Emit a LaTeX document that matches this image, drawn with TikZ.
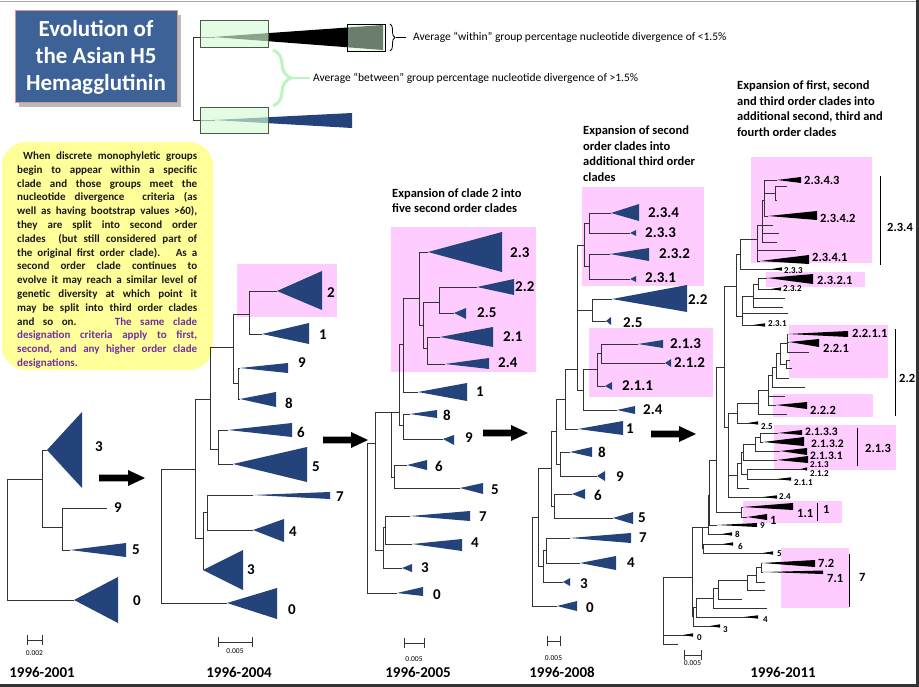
\documentclass[tikz,border=0pt]{standalone}
\usepackage{fontspec}
\setmainfont{Carlito}
\usetikzlibrary{decorations.pathreplacing}
\definecolor{tricol}{HTML}{23437A}
\definecolor{pinkbg}{RGB}{255,204,255}
\definecolor{yel}{RGB}{255,255,153}
\definecolor{titleblue}{HTML}{3C6298}
\definecolor{titleedge}{HTML}{D99694}
\definecolor{legg}{RGB}{214,250,214}
\definecolor{legedge}{HTML}{4A5A4A}
\definecolor{legbrace}{RGB}{190,245,190}
\definecolor{purp}{HTML}{7030A0}
\definecolor{linecol}{HTML}{333333}
\newcommand\tri[5]{\fill[tricol] (#1,#2) -- (#3,#4) -- (#3,#5) -- cycle;}
\newcommand\btri[5]{\fill[black] (#1,#2) -- (#3,#4) -- (#3,#5) -- cycle;}
\newcommand\tiptri[3]{\fill[black] ({#1-#3},#2) -- (#1,{#2-1.7}) -- (#1,{#2+1.7}) -- cycle;}
\newcommand\cl[5]{\draw[tl] (#2,#3) -| (#1,#5) -- (#4,#5);}
\newcommand\hl[3]{\draw[tl] (#1,#2) -- (#3,#2);}
\newcommand\lbl[5]{\node[#1,anchor=west] (#2) at (#3,#4) {#5};}
\newcommand\pinkbox[4]{\fill[pinkbg] (#1,#2) rectangle (#3,#4);}
\newcommand\bigarrow[3]{\fill[black] (#1,{#3-3.3}) -- ({#2-17},{#3-3.3}) -- ({#2-17},{#3-8}) -- (#2,#3) -- ({#2-17},{#3+8}) -- ({#2-17},{#3+3.3}) -- (#1,{#3+3.3}) -- cycle;}
\newcommand\sbar[6]{\draw[linecol,line width=0.8pt] (#1,{#3-5}) -- (#1,{#3+5}) (#1,#3) -- (#2,#3) (#2,{#3-5}) -- (#2,{#3+5});
  \node[scalelab] (#5) at ({(#1+#2)/2},#4) {#6};}
\newcommand\ybr[3]{\draw[black,line width=0.9pt] (#1,#2) -- (#1,#3);}
\newcommand\yl[1]{\makebox[180pt][s]{#1}}
\begin{document}
\begin{tikzpicture}[x=1pt,y=-1pt,
 tl/.style={draw=linecol,line width=0.8pt},
 labA/.style={font=\bfseries\fontsize{15}{15}\selectfont,inner sep=0pt},
 labB/.style={font=\bfseries\fontsize{12.5}{12.5}\selectfont,inner sep=0pt},
 labBs/.style={font=\bfseries\fontsize{11.5}{11.5}\selectfont,inner sep=0pt},
 labC/.style={font=\bfseries\fontsize{9}{9}\selectfont,inner sep=0pt},
 yearlab/.style={font=\bfseries\fontsize{15}{15}\selectfont,inner sep=0pt},
 scalelab/.style={font=\fontsize{7.5}{7.5}\selectfont,inner sep=0pt},
 headlab/.style={font=\bfseries\fontsize{12.5}{15.5}\selectfont,inner sep=0pt,align=left,anchor=north west},
 legtext/.style={font=\fontsize{11.5}{13}\selectfont,inner sep=0pt,anchor=west},
]
\useasboundingbox (0,0) rectangle (919,687);
\fill[white] (0,0) rectangle (919,687);
% frame
\draw[black!35,line width=1pt] (0,1.5) -- (919,1.5);
\fill[black!80] (916,0) rectangle (919,687);
\fill[black!80] (0,683.5) rectangle (919,687);

% ---------- title ----------
\fill[black!45,opacity=0.6] (19,15) rectangle (181,107);
\filldraw[fill=titleblue,draw=titleedge,line width=1pt] (15,11) rectangle (177,103);
\node[text=white,font=\bfseries\fontsize{23}{27}\selectfont,align=center,inner sep=0] (title) at (96,57) {Evolution of\\the Asian H5\\Hemagglutinin};

% ---------- legend ----------
\draw[linecol,line width=0.9pt] (215,37) -| (193,120) -- (215,120);
\fill[black] (213,37) -- (383,25) -- (383,50) -- cycle;
\fill[tricol] (213,120) -- (352,113) -- (352,128) -- cycle;
\filldraw[fill=legg,fill opacity=0.65,draw=legedge,line width=0.8pt] (200,20) rectangle (268,47);
\filldraw[fill=legg,fill opacity=0.65,draw=legedge,line width=0.8pt] (200,107) rectangle (268,133);
\filldraw[fill=legg,fill opacity=0.5,draw=black,line width=0.8pt] (347,24) rectangle (385,51);
\draw[decorate,decoration={brace,amplitude=5pt},line width=0.8pt] (390,24) -- (390,51);
\draw[line width=0.8pt] (396,37.5) -- (406,37.5);
\node[legtext] (legw) at (413,37.5) {Average “within” group percentage nucleotide divergence of <1.5\%};
\draw[decorate,decoration={brace,amplitude=18pt},legbrace,line width=3pt] (273,50) -- (273,106);
\draw[legbrace,line width=2pt] (290,78) -- (310,78);
\node[legtext] (legb) at (313,78) {Average “between” group percentage nucleotide divergence of >1.5\%};

% ---------- yellow box ----------
\fill[yel,rounded corners=24pt] (2,142) rectangle (213,370);
\node[anchor=north west,inner sep=0,align=left,font=\bfseries\fontsize{11}{13.8}\selectfont,text=black!90] (ytext) at (17,151.5) {%
\yl{\hspace{6pt}When discrete monophyletic groups}\\
\yl{begin to appear within a specific}\\
\yl{clade and those groups meet the}\\
\yl{nucleotide divergence \ criteria (as}\\
\yl{well as having bootstrap values >60),}\\
\yl{they are split into second order}\\
\yl{clades \ (but still considered part of}\\
\yl{the original first order clade). \ As a}\\
\yl{second order clade continues to}\\
\yl{evolve it may reach a similar level of}\\
\yl{genetic diversity at which point it}\\
\yl{may be split into third order clades}\\
\yl{and so on. \ \ \textcolor{purp}{The same clade}}\\
\yl{\textcolor{purp}{designation criteria apply to first,}}\\
\yl{\textcolor{purp}{second, and any higher order clade}}\\
\textcolor{purp}{designations.}};

% ---------- arrows ----------
\bigarrow{99}{145}{478}
\bigarrow{323}{368}{440}
\bigarrow{483}{528}{433}
\bigarrow{651}{696}{434}

% ---------- tree 1 (1996-2001) ----------
\cl{7}{42}{479}{74}{600}
\cl{42}{47}{450}{62}{527}
\cl{62}{107}{508}{70}{550}
\tri{74}{600}{118}{577}{623}
\tri{47}{450}{82}{412}{488}
\tri{70}{550}{126}{543}{557}
\lbl{labA}{a3}{95}{447}{3}
\lbl{labA}{a9}{114}{508}{9}
\lbl{labA}{a5}{132}{550}{5}
\lbl{labA}{a0}{133}{601}{0}
\sbar{27}{42}{640}{653}{s1}{0.002}
\node[yearlab] (y1) at (42,672) {1996-2001};

% ---------- tree 2 (1996-2004) ----------
\pinkbox{237}{264}{337}{317}
\cl{161}{195}{469}{227}{603}
\cl{195}{210}{399}{203}{538}
\cl{210}{233}{347}{218}{449}
\cl{233}{249}{314}{238}{383}
\cl{249}{277}{291}{262}{334}
\cl{238}{240}{368}{240}{399}
\cl{218}{228}{430}{233}{464}
\cl{203}{207}{512}{203}{570}
\cl{207}{253}{495}{253}{530}
\tri{277}{291}{322}{271}{310}
\tri{262}{334}{309}{323}{344}
\tri{240}{368}{288}{363}{373}
\tri{240}{399}{276}{392}{407}
\tri{228}{430}{292}{423}{437}
\tri{233}{464}{307}{447}{482}
\tri{253}{495}{330}{492}{499}
\tri{253}{530}{284}{519}{542}
\tri{203}{570}{243}{550}{590}
\tri{227}{603}{277}{588}{619}
\lbl{labA}{b2}{327}{293}{2}
\lbl{labA}{b1}{319}{335}{1}
\lbl{labA}{b9}{298}{363}{9}
\lbl{labA}{b8}{285}{403}{8}
\lbl{labA}{b6}{297}{432}{6}
\lbl{labA}{b5}{312}{467}{5}
\lbl{labA}{b7}{336}{497}{7}
\lbl{labA}{b4}{289}{532}{4}
\lbl{labA}{b3}{247}{570}{3}
\lbl{labA}{b0}{288}{610}{0}
\sbar{218}{252}{642}{651}{s2}{0.005}
\node[yearlab] (y2) at (239,672) {1996-2004};

% ---------- tree 3 (1996-2005) ----------
\node[headlab] (h3) at (392,188.5) {Expansion of clade 2 into\\five second order clades};
\pinkbox{391}{227}{536}{372}
\cl{367}{375}{443}{397}{593}
\cl{375}{391}{412}{383}{550}
\cl{391}{399}{412}{394}{477}
\cl{399}{403}{344}{403}{425}
\cl{403}{419}{298}{418}{392}
\cl{419}{428}{252}{423}{325}
\cl{423}{439}{302}{427}{348}
\cl{439}{477}{287}{454}{313}
\cl{427}{440}{337}{445}{364}
\cl{403}{410}{414}{443}{439}
\cl{394}{407}{465}{460}{488}
\cl{383}{385}{527}{402}{568}
\cl{385}{410}{516}{412}{544}
\tri{428}{252}{502}{232}{272}
\tri{477}{287}{514}{279}{295}
\tri{454}{313}{466}{308}{319}
\tri{440}{337}{493}{327}{347}
\tri{445}{364}{489}{358}{369}
\tri{418}{392}{467}{383}{401}
\tri{410}{414}{437}{410}{418}
\tri{443}{439}{454}{435}{445}
\tri{407}{465}{427}{460}{470}
\tri{460}{488}{483}{483}{494}
\tri{410}{516}{470}{511}{521}
\tri{412}{544}{462}{539}{551}
\tri{402}{568}{412}{564}{572}
\tri{397}{593}{423}{587}{596}
\lbl{labA}{c23}{510}{253}{2.3}
\lbl{labA}{c22}{515}{287}{2.2}
\lbl{labA}{c25}{477}{313}{2.5}
\lbl{labA}{c21}{503}{337}{2.1}
\lbl{labA}{c24}{498}{363}{2.4}
\lbl{labA}{c1}{476}{392}{1}
\lbl{labA}{c8}{443}{415}{8}
\lbl{labA}{c9}{465}{438}{9}
\lbl{labA}{c6}{435}{466}{6}
\lbl{labA}{c5}{491}{490}{5}
\lbl{labA}{c7}{479}{517}{7}
\lbl{labA}{c4}{471}{543}{4}
\lbl{labA}{c3}{421}{568}{3}
\lbl{labA}{c0}{433}{595}{0}
\sbar{404}{424}{643}{659}{s3}{0.005}
\node[yearlab] (y3) at (418,672) {1996-2005};

% ---------- tree 4 (1996-2008) ----------
\node[headlab] (h4) at (583,126) {Expansion of second\\order clades into\\additional third order\\clades};
\pinkbox{582}{187}{704}{286}
\pinkbox{589}{328}{713}{397}
\cl{532}{538}{517}{557}{606}
\cl{538}{551}{468}{543}{566}
\cl{551}{556}{431}{554}{506}
\cl{556}{565}{399}{560}{464}
\cl{565}{577}{369}{578}{429}
\cl{577}{584}{245}{583}{390}
\hl{577}{310}{592}
\cl{584}{589}{223}{589}{266}
\cl{589}{611}{213}{630}{233}
\cl{589}{610}{254}{630}{279}
\cl{592}{612}{299}{606}{321}
\cl{583}{597}{369}{617}{410}
\cl{597}{601}{353}{605}{386}
\cl{601}{638}{344}{665}{363}
\cl{560}{570}{452}{597}{476}
\cl{554}{572}{494}{613}{518}
\cl{543}{546}{550}{563}{582}
\cl{546}{570}{538}{580}{563}
\tri{611}{213}{639}{204}{221}
\tri{630}{233}{636}{230}{236}
\tri{610}{254}{649}{248}{261}
\tri{630}{279}{636}{276}{282}
\tri{612}{299}{687}{285}{312}
\tri{606}{321}{611}{317}{325}
\tri{638}{344}{663}{340}{348}
\tri{665}{363}{671}{359}{367}
\tri{605}{386}{612}{382}{390}
\tri{617}{410}{635}{406}{414}
\tri{578}{429}{623}{421}{435}
\tri{570}{452}{592}{447}{457}
\tri{597}{476}{605}{471}{481}
\tri{572}{494}{585}{489}{499}
\tri{613}{518}{633}{512}{524}
\tri{570}{538}{631}{533}{543}
\tri{580}{563}{616}{556}{570}
\tri{563}{582}{570}{578}{586}
\tri{557}{606}{577}{601}{611}
\lbl{labA}{d234}{648}{213}{2.3.4}
\lbl{labA}{d233}{645}{233}{2.3.3}
\lbl{labA}{d232}{659}{254}{2.3.2}
\lbl{labA}{d231}{645}{278}{2.3.1}
\lbl{labA}{d22}{688}{300}{2.2}
\lbl{labA}{d25}{623}{323}{2.5}
\lbl{labA}{d213}{670}{344}{2.1.3}
\lbl{labA}{d212}{674}{363}{2.1.2}
\lbl{labA}{d211}{622}{386}{2.1.1}
\lbl{labA}{d24}{643}{410}{2.4}
\lbl{labA}{d1}{626}{429}{1}
\lbl{labA}{d8}{598}{452}{8}
\lbl{labA}{d9}{616}{477}{9}
\lbl{labA}{d6}{594}{495}{6}
\lbl{labA}{d5}{638}{518}{5}
\lbl{labA}{d7}{639}{538}{7}
\lbl{labA}{d4}{627}{563}{4}
\lbl{labA}{d3}{580}{584}{3}
\lbl{labA}{d0}{586}{608}{0}
\sbar{547}{560}{641}{658}{s4}{0.005}
\node[yearlab] (y4) at (562,672) {1996-2008};

% ---------- tree 5 (1996-2011) ----------
\node[headlab] (h5) at (737,81) {Expansion of first, second\\and third order clades into\\additional second, third and\\fourth order clades};
\pinkbox{751}{157}{872}{263}
\pinkbox{766}{272}{865}{287}
\pinkbox{789}{325}{888}{378}
\pinkbox{773}{394}{873}{417}
\pinkbox{774}{425}{896}{470}
\pinkbox{743}{501}{842}{523}
\pinkbox{781}{548}{849}{608}
% lower backbone
\cl{761}{762}{563}{763}{572}
\cl{756}{761}{567}{765}{582}
\cl{747}{756}{575}{765}{590}
\cl{718}{747}{580}{742}{599}
\cl{713}{718}{588}{767}{608}
\cl{696}{713}{598}{758}{617}
\cl{693}{696}{607}{720}{626}
\cl{692}{702}{527}{693}{616}
\cl{663}{692}{577}{678}{644}
\hl{663}{635}{693}
% upper
\cl{702}{708}{527}{703}{548}
\cl{703}{733}{544}{773}{553}
\cl{708}{709}{495}{732}{534}
\cl{709}{716}{460}{717}{525}
\cl{716}{724}{367}{741}{512}
\cl{741}{743}{507}{747}{517}
\cl{724}{736}{286}{728}{427}
\cl{736}{740}{254}{742}{316}
\cl{740}{757}{239}{782}{269}
\cl{742}{753}{296}{765}{325}
\hl{742}{313}{788}
\cl{753}{758}{284}{783}{307}
\hl{753}{298}{785}
\cl{758}{767}{278}{781}{289}
\cl{757}{762}{225}{760}{261}
\hl{757}{250}{796}
\cl{762}{764}{200}{777}{242}
\hl{762}{225}{773}
\hl{762}{233}{779}
\cl{764}{777}{180}{768}{216}
\hl{764}{193}{775}
\cl{775}{787}{186}{777}{200}
% clade 2.2 / 2.1 / 2.4
\cl{728}{737}{413}{777}{497}
\hl{728}{475}{737}
\cl{737}{758}{403}{758}{423}
\cl{758}{768}{390}{787}{414}
\cl{768}{772}{375}{776}{405}
\hl{768}{396}{785}
\cl{772}{776}{367}{805}{387}
\cl{776}{780}{353}{789}{378}
\cl{780}{787}{343}{786}{364}
\cl{787}{788}{334}{809}{352}
\hl{787}{342}{789}
\cl{786}{790}{360}{792}{368}
\cl{737}{741}{463}{749}{488}
\cl{741}{743}{452}{747}{474}
\cl{743}{755}{444}{777}{460}
\cl{755}{760}{437}{780}{451}
\cl{760}{778}{433}{763}{442}
\cl{747}{807}{469}{791}{479}
% black triangles
\btri{777}{180}{801}{177}{183}
\btri{768}{216}{817}{211}{220}
\btri{760}{261}{809}{255}{264}
\btri{767}{278}{813}{274}{284}
\btri{788}{334}{848}{331}{337}
\btri{789}{342}{819}{339}{347}
\btri{776}{405}{807}{402}{409}
\btri{778}{433}{802}{430}{435}
\btri{763}{442}{804}{437}{446}
\btri{780}{451}{807}{448}{455}
\btri{777}{460}{808}{456}{463}
\btri{743}{507}{793}{503}{510}
\btri{747}{517}{767}{514}{520}
\btri{717}{525}{757}{523}{527}
\btri{762}{563}{815}{560}{567}
\btri{763}{572}{823}{570.5}{574}
\tiptri{782}{269}{10}
\tiptri{781}{289}{10}
\tiptri{765}{325}{12}
\tiptri{758}{423}{10}
\tiptri{777}{497}{14}
\tiptri{807}{469}{6}
\tiptri{791}{479}{14}
\tiptri{732}{534}{10}
\tiptri{733}{544}{10}
\tiptri{773}{553}{10}
\tiptri{758}{617}{14}
\tiptri{720}{626}{10}
\tiptri{693}{635}{10}
% brackets
\ybr{880}{176}{265}
\ybr{895}{329}{416}
\ybr{857}{428}{466}
\ybr{817}{503}{521}
\ybr{849}{554}{607}
\lbl{labB}{e234b}{887}{227}{2.3.4}
\lbl{labB}{e22b}{899}{378}{2.2}
\lbl{labB}{e213b}{865}{448}{2.1.3}
\lbl{labB}{e1b}{823}{509}{1}
\lbl{labB}{e7b}{859}{577}{7}
% labels
\lbl{labB}{e2343}{804}{180}{2.3.4.3}
\lbl{labB}{e2342}{820}{218}{2.3.4.2}
\lbl{labB}{e2341}{812}{257}{2.3.4.1}
\lbl{labB}{e2321}{817}{280}{2.3.2.1}
\lbl{labB}{e2211}{852}{333}{2.2.1.1}
\lbl{labB}{e221}{823}{348}{2.2.1}
\lbl{labB}{e222}{810}{410}{2.2.2}
\lbl{labBs}{e2133}{805}{431.5}{2.1.3.3}
\lbl{labBs}{e2132}{811}{443.5}{2.1.3.2}
\lbl{labBs}{e2131}{810}{456}{2.1.3.1}
\lbl{labB}{e11}{797}{513}{1.1}
\lbl{labB}{e1}{770}{520}{1}
\lbl{labB}{e72}{818}{563}{7.2}
\lbl{labB}{e71}{827}{578}{7.1}
\lbl{labC}{e233}{784}{271}{2.3.3}
\lbl{labC}{e232}{783}{289}{2.3.2}
\lbl{labC}{e231}{768}{324}{2.3.1}
\lbl{labC}{e25}{761}{427}{2.5}
\lbl{labC}{e213}{810}{465}{2.1.3}
\lbl{labC}{e212}{810}{474}{2.1.2}
\lbl{labC}{e211}{794}{483}{2.1.1}
\lbl{labC}{e24}{779}{497}{2.4}
\lbl{labC}{e9}{760}{526}{9}
\lbl{labC}{e8}{735}{534}{8}
\lbl{labC}{e6}{738}{546}{6}
\lbl{labC}{e5}{777}{554}{5}
\lbl{labC}{e4}{763}{620}{4}
\lbl{labC}{e3}{723}{630}{3}
\lbl{labC}{e0}{697}{638}{0}
\sbar{684}{701}{655}{663}{s5}{0.005}
\node[yearlab] (y5) at (783,672) {1996-2011};
\end{tikzpicture}
\end{document}
